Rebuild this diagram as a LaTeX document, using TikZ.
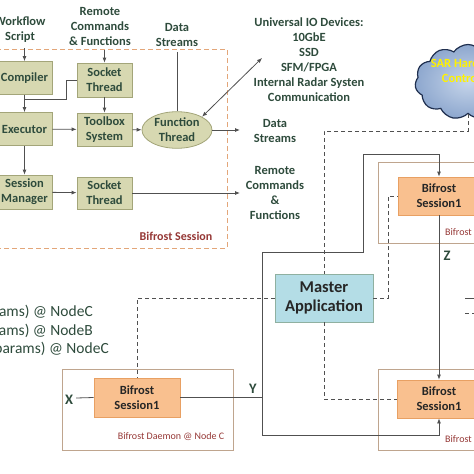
\documentclass[tikz,border=0pt]{standalone}
\usepackage{fontspec}
\setmainfont{Carlito}
\usetikzlibrary{arrows.meta,calc,shapes.geometric,shapes.symbols}

\definecolor{txtgreen}{HTML}{2E4B3C}
\definecolor{boxfill}{HTML}{D7D8B1}
\definecolor{boxline}{HTML}{A3A579}
\definecolor{sessfill}{HTML}{F9C08F}
\definecolor{sessline}{HTML}{E8A063}
\definecolor{mastfill}{HTML}{B4DDE6}
\definecolor{mastline}{HTML}{8FB0A0}
\definecolor{daemonline}{HTML}{BFA58E}
\definecolor{dashorange}{HTML}{E3A679}
\definecolor{redlbl}{HTML}{953735}
\definecolor{connc}{HTML}{505050}
\definecolor{cloudin}{HTML}{C6D5EA}
\definecolor{cloudout}{HTML}{8DA7CE}
\definecolor{cloudline}{HTML}{1F2F4F}

\tikzset{
	box/.style={draw=boxline, fill=boxfill, line width=0.8pt, minimum width=55pt, minimum height=33pt,
		align=center, inner sep=1pt, text=txtgreen, font=\bfseries\fontsize{12.5}{15}\selectfont},
	funcell/.style={box, ellipse, minimum width=70pt, minimum height=36pt},
	sessbox/.style={draw=sessline, fill=sessfill, line width=0.8pt, minimum width=84pt, minimum height=38pt,
		align=center, inner sep=1pt, text=black!85, font=\bfseries\fontsize{12.5}{15}\selectfont},
	mastbox/.style={draw=mastline, fill=mastfill, line width=0.8pt, minimum width=98pt, minimum height=48pt,
		align=center, inner sep=1pt, text=black!85, font=\bfseries\fontsize{16.5}{19}\selectfont},
	daemon/.style={draw=daemonline, line width=0.8pt},
	lbl/.style={align=center, inner sep=0pt, text=txtgreen, font=\bfseries\fontsize{12.5}{15}\selectfont},
	redtxt/.style={inner sep=0pt, text=redlbl, font=\fontsize{10}{11}\selectfont},
	xyz/.style={inner sep=0pt, text=txtgreen, font=\bfseries\fontsize{14.5}{16}\selectfont},
	calltxt/.style={anchor=east, inner sep=0pt, text=txtgreen, font=\fontsize{15.5}{18}\selectfont},
	conn/.style={draw=connc, line width=0.8pt},
	arr/.style={conn, -{Latex[length=5pt,width=4pt]}},
	dline/.style={draw=connc, line width=1pt, dash pattern=on 4pt off 3pt},
}

\begin{document}
\begin{tikzpicture}[x=1pt, y=-1pt]
	\useasboundingbox (0,0) rectangle (474,474);
	\clip (0,0) rectangle (474,474);
	
	% session frame
	\draw[dashorange, line width=0.9pt, dash pattern=on 5pt off 3pt] (-5,49) rectangle (227,248);
	\node[redtxt, font=\bfseries\fontsize{12}{13}\selectfont] (bslbl) at (176,236) {Bifrost Session};
	
	\node[box] (comp)  at (24.5,78)  {Compiler};
	\node[box] (exec)  at (24.5,129) {Executor};
	\node[box, minimum height=34pt] (sesm) at (24.5,192) {Session\\Manager};
	\node[box, minimum height=34pt] (sock1) at (104.5,80) {Socket\\Thread};
	\node[box] (tbox)  at (104.5,129.5) {Toolbox\\System};
	\node[box, minimum height=32pt] (sock2) at (104.5,193) {Socket\\Thread};
	\node[funcell] (fthr) at (177,130) {Function\\Thread};
	
	\node[lbl] (wfs) at (20,30)  {Workflow\\Script};
	\node[lbl] (rcf) at (100,26) {Remote\\Commands\\\& Functions};
	\node[lbl] (dsin) at (177,35) {Data\\Streams};
	\node[lbl] (iodev) at (309,60) {Universal IO Devices:\\10GbE\\SSD\\SFM/FPGA\\Internal Radar Systen\\Communication};
	\node[lbl] (dsout) at (275,131) {Data\\Streams};
	\node[lbl] (rcout) at (275,193) {Remote\\Commands\\\&\\Functions};
	
	\coordinate (iotip) at (262,58);
	\coordinate (jn) at ($(comp.south)+(0,4)$);
	\coordinate (dsend) at (240,130);
	\coordinate (rcend) at (240,193);
	
	\draw[arr] (wfs.south -| comp.north) ++(0,5) -- (comp.north);
	\draw[arr] (rcf.south -| sock1.north) ++(0,5) -- (sock1.north);
	\draw[conn] (dsin.south) ++(0,5) -- (fthr.north);
	\draw[conn, {Latex[length=5pt,width=4pt]}-{Latex[length=5pt,width=4pt]}] (fthr.north east) -- (iotip);
	\draw[arr] (comp) -- (exec);
	\draw[conn] (sock1.west) -- ++(-10,0) |- (jn);
	\draw[arr] (sock1) -- (tbox);
	\draw[arr] (exec) -- (tbox);
	\draw[arr] (tbox) -- (fthr);
	\draw[arr] (fthr) -- (dsend);
	\draw[arr] (exec) -- (sesm);
	\draw[arr] (sesm) -- (sock2);
	\draw[arr] (sock2) -- (rcend);
	
	% calls
	\node[calltxt] (call1) at (93,312)  {(params) @ NodeC};
	\node[calltxt] (call2) at (93,331)  {(params) @ NodeB};
	\node[calltxt] (call3) at (109,349) {(params) @ NodeC};
	
	% cloud
	\node[cloud, cloud puffs=11, cloud puff arc=110, aspect=1.4, draw=cloudline, inner color=cloudin,
		outer color=cloudout, line width=1.2pt, minimum width=106pt, minimum height=75pt] (sar) at (468,82) {};
	\node[lbl, text=yellow] (sartxt) at (468,71) {SAR Hardware\\Controller};
	
	% daemons
	\draw[daemon] (378,162) rectangle (500,243);
	\draw[daemon] (378,369) rectangle (500,450);
	\draw[daemon] (62,369) rectangle (233,450);
	\node[redtxt, anchor=west] (dmA) at (445,233) {Bifrost Daemon @ Node A};
	\node[redtxt, anchor=west] (dmB) at (445,440) {Bifrost Daemon @ Node B};
	\node[redtxt] (dmC) at (171,437) {Bifrost Daemon @ Node C};
	
	\node[mastbox] (master) at (324,298) {Master\\Application};
	\node[sessbox, minimum width=82pt] (s1) at (439,196) {Bifrost\\Session1};
	\node[sessbox] (s2) at (439,399) {Bifrost\\Session1};
	\node[sessbox, minimum width=86pt, minimum height=39pt] (s0) at (137,397.5) {Bifrost\\Session1};
	
	\node[xyz] (xl) at (69,400) {X};
	\node[xyz] (yl) at (253,389) {Y};
	\node[xyz] (zl) at (447,256) {Z};
	
	\coordinate (bus) at (262,397.5);
	
	\draw[dline] (sar.south) -- ++(0,17) -| (master.north);
	\draw[dline] (master.west) -| (s0.north);
	\draw[dline] (master.east) -- ++(15,0) |- (s1.west);
	\draw[dline] (master.south) |- (s2.west);
	
	\draw[conn] (xl.east) ++(3,-2) -- (s0.west);
	\draw[conn] (s0.east) -- (bus);
	\draw[arr] (bus) |- ++(101,-145) -- ++(0,-98) -| (s1.north);
	\draw[arr] (bus) -- ++(0,38) -| (s2.south);
	\draw[arr] (s1.south) -- (s2.north);
	
	% legend
	\draw[conn] (465,298) -- ++(20,0);
	\draw[dline] (465,313) -- ++(20,0);
	
\end{tikzpicture}
\end{document}
